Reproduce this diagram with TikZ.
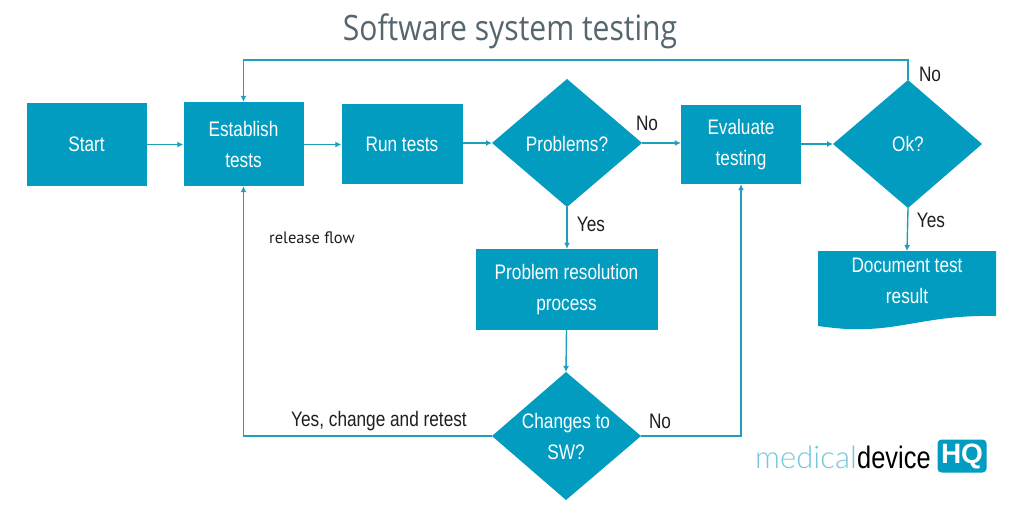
\documentclass[tikz,border=0pt]{standalone}
\usepackage{fontspec}
\usetikzlibrary{shapes.geometric,arrows.meta}
\setmainfont{Liberation Sans}
\newfontfamily\nar[FakeStretch=0.82]{Liberation Sans}
\newfontfamily\ttl[FakeStretch=0.86]{Open Sans}
\newfontfamily\rel{PT Sans}
\newfontfamily\lgt{Lato Light}
\definecolor{tealb}{HTML}{029CC1}
\definecolor{ttlc}{HTML}{56666F}
\definecolor{lnk}{HTML}{1E9FC0}
\definecolor{lbl}{HTML}{1F1F1F}
\tikzset{
 box/.style={fill=tealb,text=white,font=\nar\fontsize{21}{31}\selectfont,align=center,inner sep=0pt,minimum width=121pt,minimum height=83pt},
 dec/.style={diamond,aspect=1,fill=tealb,text=white,font=\nar\fontsize{21}{31}\selectfont,align=center,inner sep=0pt},
 lab/.style={text=lbl,font=\nar\fontsize{21}{25}\selectfont,inner sep=0pt},
 conn/.style={draw=lnk,line width=1.4pt,-{Latex[length=6pt,width=6pt]}}
}
\begin{document}
\begin{tikzpicture}[x=1pt,y=-1pt]
\useasboundingbox[fill=white] (0,0) rectangle (1024,516);
\node[text=ttlc,font=\ttl\fontsize{35}{40}\selectfont,inner sep=0pt] (title) at (510,31) {Software system testing};
\node[box,minimum width=120pt,minimum height=83pt] (start) at (86.5,144.5) {Start};
\node[box,minimum width=120pt,minimum height=84pt] (est) at (243.5,144) {Establish\\tests};
\node[box,minimum width=121pt,minimum height=80pt] (run) at (402,144) {Run tests};
\path[fill=tealb] (567,79) -- (642,143) -- (567,207) -- (492,143) -- cycle;
\node[text=white,font=\nar\fontsize{21}{31}\selectfont,inner sep=0pt] (prob) at (567,144) {Problems?};
\coordinate (probT) at (567,79);\coordinate (probB) at (567,207);\coordinate (probL) at (492,143);\coordinate (probR) at (642,143);
\node[box,minimum width=120pt,minimum height=79pt] (eval) at (741,144.5) {Evaluate\\testing};
\path[fill=tealb] (908,80) -- (982,144) -- (908,208) -- (833,144) -- cycle;
\node[text=white,font=\nar\fontsize{21}{31}\selectfont,inner sep=0pt] (ok) at (908,144) {Ok?};
\coordinate (okT) at (908,80);\coordinate (okB) at (908,208);\coordinate (okL) at (833,144);
\node[box,minimum width=182pt,minimum height=81pt] (res) at (566.5,289.5) {Problem resolution\\process};
\path[fill=tealb] (566,372) -- (641,436) -- (566,500) -- (492,436) -- cycle;
\node[text=white,font=\nar\fontsize{21}{31}\selectfont,inner sep=0pt,align=center] (chg) at (566,436) {Changes to\\SW?};
\coordinate (chgT) at (566,372);\coordinate (chgL) at (492,436);\coordinate (chgR) at (641,436);
\path[fill=tealb] (818,251) -- (996,251) -- (996,316) .. controls (950,315) and (925,322) .. (890,327) .. controls (860,331) and (840,329) .. (818,326) -- cycle;
\node[text=white,font=\nar\fontsize{21}{31}\selectfont,align=center,inner sep=0pt] (doc) at (907,281) {Document test\\result};
\coordinate (docT) at (907,251);
\draw[conn] (start.east |- 0,144.5) -- (est.west |- 0,144.5);
\draw[conn] (est.east |- 0,144.5) -- (run.west |- 0,144.5);
\draw[conn] (run.east |- 0,143) -- (probL);
\draw[conn] (probR) -- (eval.west |- probR);
\draw[conn] (eval.east |- okL) -- (okL);
\draw[conn] (probB) -- (res.north -| probB);
\draw[conn] (res.south) -- (chgT);
\draw[conn] (okB) -- (docT);
\draw[conn] (okT) -- (908,60) -- (243.5,60) -- (est.north);
\draw[conn] (chgL) -- (243.5,436) -- (est.south);
\draw[conn] (chgR) -- (741,436) -- (eval.south);
\node[lab] (no1) at (647,123) {No};
\node[lab] (yes1) at (591,224) {Yes};
\node[lab] (no2) at (930,74) {No};
\node[lab] (yes2) at (931,220) {Yes};
\node[lab] (no3) at (660,421) {No};
\node[lab] (yes3) at (379,421) {Yes, change and retest};
\node[text=lbl,font=\rel\fontsize{16.5}{20}\selectfont,inner sep=0pt] (flow) at (312,238) {release flow};
\node[anchor=east,text=tealb!55,font=\lgt\fontsize{31}{34}\selectfont,inner sep=0pt] (lm) at (857,457) {medical};
\node[anchor=west,text=black,font=\fontsize{31}{34}\selectfont,inner sep=0pt] (ld) at (857,457) {\nar device};
\node[fill=tealb,rounded corners=4pt,text=white,font=\fontsize{28}{30}\bfseries\selectfont,inner sep=0pt,minimum width=49pt,minimum height=33pt] (hq) at (962,456) {HQ};
\end{tikzpicture}
\end{document}
